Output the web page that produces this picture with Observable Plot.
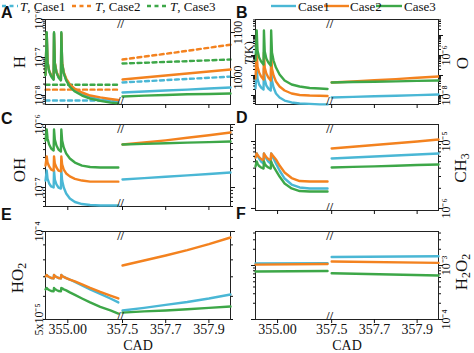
<!DOCTYPE html>
<html><head><meta charset="utf-8">
<script src="https://cdn.jsdelivr.net/npm/d3@7"></script>
<script src="https://cdn.jsdelivr.net/npm/@observablehq/plot@0.6"></script>
<style>
body{margin:0;background:#fff;}
#fig{position:relative;width:474px;height:353px;overflow:hidden;font-family:"Liberation Serif",serif;color:#111;}
#fig svg{position:absolute;left:0;top:0;overflow:visible;}
.t{position:absolute;white-space:nowrap;line-height:1;}
.rot{transform:translate(-50%,-50%) rotate(-90deg);}
.ctr{transform:translate(-50%,-50%);}
.pl{position:absolute;font-family:"Liberation Sans",Arial,sans-serif;font-weight:bold;font-size:16px;line-height:1;}
sub{font-size:70%;vertical-align:-0.25em;}
</style></head>
<body><div id="fig"></div>
<script>
// ---------- data ----------
const cases = ["Case1", "Case2", "Case3"];
const colors = ["#4ab7d5", "#f3821f", "#3da748"];
const xTicks = [355, 357.5, 357.7, 357.9];
const cadL = [353.90, 353.96, 354.00, 354.08, 354.18, 354.30, 354.32, 354.36, 354.44, 354.54, 354.66, 354.68, 354.72, 354.80, 354.92, 355.10, 355.35, 355.70, 356.10, 356.60, 357.10, 357.49];
const cadR = [357.5, 357.6, 357.7, 357.8, 357.9, 358.0];
const cadL2 = [353.9, 357.49];
const cadR2 = [357.5, 358.0];
const cadR3 = [357.5, 357.75, 358.0];

// A: H
const hL1 = [3.5e-8, 4.3e-7, 7.5e-8, 4.4e-8, 3.3e-8, 2.7e-8, 4.3e-7, 7.1e-8, 4.1e-8, 3.1e-8, 2.6e-8, 4.3e-7, 7.1e-8, 3.9e-8, 2.6e-8, 1.8e-8, 1.35e-8, 1.08e-8, 9.0e-9, 7.8e-9, 7.1e-9, 6.8e-9];
const hL2 = [3.6e-8, 4.3e-7, 7.6e-8, 4.5e-8, 3.4e-8, 2.8e-8, 4.3e-7, 7.3e-8, 4.2e-8, 3.2e-8, 2.7e-8, 4.3e-7, 7.3e-8, 4.1e-8, 2.8e-8, 1.95e-8, 1.5e-8, 1.2e-8, 1.0e-8, 8.9e-9, 8.1e-9, 7.6e-9];
const hL3 = [3.4e-8, 4.6e-7, 7.4e-8, 4.3e-8, 3.2e-8, 2.6e-8, 4.6e-7, 7.0e-8, 4.0e-8, 3.0e-8, 2.5e-8, 4.6e-7, 7.0e-8, 3.8e-8, 2.5e-8, 1.7e-8, 1.27e-8, 1.0e-8, 8.3e-9, 7.2e-9, 6.5e-9, 6.2e-9];
const hR1 = [1.2e-8, 1.27e-8, 1.35e-8, 1.43e-8, 1.53e-8, 1.63e-8];
const hR2 = [2.64e-8, 2.98e-8, 3.36e-8, 3.79e-8, 4.28e-8, 4.83e-8];
const hR3 = [9.4e-9, 9.9e-9, 1.03e-8, 1.08e-8, 1.1e-8, 1.13e-8];
// A: temperature (dashed, right axis)
const tL1 = [949, 949], tL2 = [973, 973], tL3 = [984, 984];
const tR1 = [989, 995.5, 1002], tR2 = [1040, 1056, 1073], tR3 = [1031, 1035.5, 1040];

// B: O
const oL1 = [2.24e-8, 2.24e-7, 7.1e-8, 3.55e-8, 2.51e-8, 2.0e-8, 2.24e-7, 6.3e-8, 3.16e-8, 2.24e-8, 1.78e-8, 2.24e-7, 5.6e-8, 2.51e-8, 1.26e-8, 7.9e-9, 5.6e-9, 4.5e-9, 4.0e-9, 3.8e-9, 3.6e-9, 3.6e-9];
const oL2 = [7.1e-8, 1.41e-6, 2.82e-7, 1.41e-7, 8.9e-8, 6.3e-8, 1.41e-6, 2.51e-7, 1.26e-7, 7.9e-8, 5.6e-8, 1.41e-6, 2.24e-7, 1.0e-7, 5.0e-8, 2.82e-8, 1.78e-8, 1.26e-8, 1.06e-8, 1.0e-8, 9.7e-9, 9.4e-9];
const oL3 = [5.6e-7, 1.78e-5, 1.78e-6, 7.9e-7, 5.0e-7, 3.55e-7, 1.78e-5, 1.58e-6, 7.1e-7, 4.5e-7, 3.16e-7, 1.78e-5, 1.41e-6, 5.6e-7, 2.5e-7, 1.12e-7, 5.6e-8, 3.55e-8, 2.82e-8, 2.37e-8, 2.24e-8, 2.11e-8];
const oR1 = [7.9e-9, 8.5e-9, 9.1e-9, 9.7e-9, 1.04e-8, 1.12e-8];
const oR2 = [4.5e-8, 5.0e-8, 5.8e-8, 6.6e-8, 7.7e-8, 8.9e-8];
const oR3 = [4.5e-8, 4.7e-8, 4.9e-8, 5.1e-8, 5.4e-8, 5.6e-8];

// C: OH
const ohL1 = [1.29e-7, 1.86e-7, 1.39e-7, 1.16e-7, 1.04e-7, 1.0e-7, 1.86e-7, 1.34e-7, 1.12e-7, 1.0e-7, 9.64e-8, 1.86e-7, 1.29e-7, 1.0e-7, 8.03e-8, 6.69e-8, 5.89e-8, 5.47e-8, 5.27e-8, 5.18e-8, 5.18e-8, 5.18e-8];
const ohL2 = [2.23e-7, 3.11e-7, 2.49e-7, 2.16e-7, 1.93e-7, 1.86e-7, 3.11e-7, 2.40e-7, 2.08e-7, 1.86e-7, 1.80e-7, 3.11e-7, 2.32e-7, 1.93e-7, 1.67e-7, 1.50e-7, 1.37e-7, 1.29e-7, 1.24e-7, 1.24e-7, 1.24e-7, 1.24e-7];
const ohL3 = [5.57e-7, 8.33e-7, 6.0e-7, 4.82e-7, 4.16e-7, 3.86e-7, 8.33e-7, 5.78e-7, 4.64e-7, 4.01e-7, 3.73e-7, 8.33e-7, 5.57e-7, 4.31e-7, 3.46e-7, 2.89e-7, 2.49e-7, 2.23e-7, 2.12e-7, 2.08e-7, 2.08e-7, 2.08e-7];
const ohR1 = [1.34e-7, 1.41e-7, 1.48e-7, 1.56e-7, 1.64e-7, 1.73e-7];
const ohR2 = [4.82e-7, 5.18e-7, 5.61e-7, 6.15e-7, 6.76e-7, 7.46e-7];
const ohR3 = [4.82e-7, 4.92e-7, 5.03e-7, 5.15e-7, 5.26e-7, 5.37e-7];

// D: CH3
const ch3L1 = [5.77e-6, 6.63e-6, 6.18e-6, 5.57e-6, 5.03e-6, 4.69e-6, 6.63e-6, 6.18e-6, 5.57e-6, 5.03e-6, 4.69e-6, 6.63e-6, 6.18e-6, 5.57e-6, 4.69e-6, 3.69e-6, 2.80e-6, 2.28e-6, 2.06e-6, 1.99e-6, 1.99e-6, 1.99e-6];
const ch3L2 = [5.77e-6, 6.63e-6, 6.29e-6, 5.87e-6, 5.48e-6, 5.20e-6, 6.63e-6, 6.29e-6, 5.87e-6, 5.48e-6, 5.20e-6, 6.63e-6, 6.40e-6, 5.97e-6, 5.39e-6, 4.38e-6, 3.44e-6, 2.85e-6, 2.57e-6, 2.53e-6, 2.53e-6, 2.53e-6];
const ch3L3 = [4.23e-6, 5.03e-6, 4.69e-6, 4.30e-6, 4.09e-6, 3.95e-6, 5.03e-6, 4.69e-6, 4.30e-6, 4.09e-6, 3.95e-6, 5.03e-6, 4.69e-6, 4.23e-6, 3.69e-6, 3.00e-6, 2.36e-6, 1.99e-6, 1.82e-6, 1.79e-6, 1.79e-6, 1.79e-6];
const ch3R1 = [5.57e-6, 5.77e-6, 5.97e-6, 6.18e-6, 6.40e-6, 6.63e-6];
const ch3R2 = [7.87e-6, 8.34e-6, 8.87e-6, 9.44e-6, 1.0e-5, 1.07e-5];
const ch3R3 = [4.09e-6, 4.18e-6, 4.26e-6, 4.35e-6, 4.45e-6, 4.54e-6];

// E: HO2
const ho2L1 = [7.02e-5, 7.10e-5, 7.04e-5, 6.99e-5, 6.93e-5, 6.91e-5, 7.10e-5, 7.04e-5, 6.99e-5, 6.93e-5, 6.91e-5, 7.10e-5, 7.04e-5, 6.99e-5, 6.93e-5, 6.85e-5, 6.72e-5, 6.54e-5, 6.34e-5, 6.12e-5, 5.90e-5, 5.72e-5];
const ho2L2 = [7.02e-5, 7.10e-5, 7.04e-5, 6.99e-5, 6.93e-5, 6.91e-5, 7.10e-5, 7.04e-5, 6.99e-5, 6.93e-5, 6.91e-5, 7.10e-5, 7.04e-5, 6.99e-5, 6.93e-5, 6.85e-5, 6.75e-5, 6.59e-5, 6.41e-5, 6.21e-5, 6.04e-5, 5.90e-5];
const ho2L3 = [6.34e-5, 6.41e-5, 6.36e-5, 6.31e-5, 6.26e-5, 6.24e-5, 6.41e-5, 6.36e-5, 6.31e-5, 6.26e-5, 6.24e-5, 6.41e-5, 6.39e-5, 6.34e-5, 6.29e-5, 6.19e-5, 6.07e-5, 5.90e-5, 5.72e-5, 5.52e-5, 5.37e-5, 5.24e-5];
const ho2R1 = [5.37e-5, 5.48e-5, 5.61e-5, 5.74e-5, 5.90e-5, 6.09e-5];
const ho2R2 = [7.65e-5, 7.96e-5, 8.28e-5, 8.64e-5, 9.06e-5, 9.54e-5];
const ho2R3 = [5.28e-5, 5.33e-5, 5.37e-5, 5.42e-5, 5.48e-5, 5.54e-5];

// F: H2O2
const h2o2L1 = [1.09e-3, 1.11e-3], h2o2L2 = [1.04e-3, 1.066e-3], h2o2L3 = [7.74e-4, 7.91e-4];
const h2o2R1 = [1.44e-3, 1.49e-3], h2o2R2 = [1.19e-3, 1.12e-3], h2o2R3 = [7.2e-4, 6.53e-4];

// ---------- helpers ----------
const W = 474, H = 353;
// broken CAD axis: the two segments are joined into one display coordinate
const brk = d3.scaleLinear().domain([353.9, 357.499, 357.5, 358.0]).range([0, 73, 77, 185]);
const xDom = [0, 185];
const supMap = {"-": "\u207B", "0": "\u2070", "1": "\u00B9", "2": "\u00B2", "3": "\u00B3", "4": "\u2074", "5": "\u2075", "6": "\u2076", "7": "\u2077", "8": "\u2078", "9": "\u2079"};
const sup = s => String(s).split("").map(c => supMap[c]).join("");
const pow10 = v => "10" + sup(Math.round(Math.log10(v)));
const fmtX = u => { const d = Math.round(brk.invert(u) * 10) / 10; return d === 355 ? "355.00" : d.toFixed(1); };
const none = () => "";
function minors(lo, hi) {
  const out = [];
  for (let e = Math.floor(Math.log10(lo)); e <= Math.ceil(Math.log10(hi)); e++)
    for (let m = 2; m <= 9; m++) { const v = m * Math.pow(10, e); if (v >= lo && v <= hi) out.push(v); }
  return out;
}
function decades(lo, hi) {
  const out = [];
  for (let e = Math.ceil(Math.log10(lo) - 1e-9); e <= Math.floor(Math.log10(hi) + 1e-9); e++) out.push(Math.pow(10, e));
  return out;
}
function rows(list) {
  const d = [];
  list.forEach(([xs, ys, ci, seg]) => xs.forEach((x, i) => d.push({x, y: ys[i], c: cases[ci], seg})));
  return d;
}
const colLeft = {l: 45, r: 230};
const colRight = {l: 255, r: 438};
const fig = document.getElementById("fig");
const baseStyle = {background: "transparent", fontFamily: '"Liberation Serif", serif', fontSize: "14px", color: "#111", overflow: "visible"};

function panel(p) {
  const col = p.col;
  const data = rows(p.series);
  const opp = p.side === "left" ? "right" : "left";
  const lo = p.yDomain[0], hi = p.yDomain[1];
  const dec = decades(lo, hi);
  const marks = [
    Plot.frame({stroke: "#222", strokeWidth: 1}),
    Plot.line(data, {x: d => brk(d.x), y: "y", z: d => d.c + d.seg, stroke: "c", strokeWidth: 2.4}),
    Plot.axisY({anchor: p.side, ticks: dec, tickFormat: none, tickSize: 4, label: null}),
    Plot.axisY({anchor: p.side, ticks: minors(lo, hi), tickFormat: none, tickSize: 2, label: null}),
    Plot.axisY({anchor: p.side, ticks: p.labels, tickFormat: p.fmt, tickSize: 0, tickPadding: 3, tickRotate: -90, fontSize: 12,
      lineAnchor: p.side === "left" ? "bottom" : "top", textAnchor: "middle", label: null}),
    Plot.axisX({anchor: "bottom", ticks: xTicks.map(brk), tickFormat: p.showX ? fmtX : none, tickSize: 4, tickPadding: 1, label: null}),
    Plot.text([{x: 357.4995, t: "//"}], {x: d => brk(d.x), text: "t", frameAnchor: "top", fontSize: 12, fontWeight: "bold", fill: "#222"}),
    Plot.text([{x: 357.4995, t: "//"}], {x: d => brk(d.x), text: "t", frameAnchor: "bottom", fontSize: 12, fontWeight: "bold", fill: "#222"})
  ];
  if (p.mirror) {
    marks.push(Plot.axisY({anchor: opp, ticks: dec, tickFormat: none, tickSize: 4, label: null}));
    marks.push(Plot.axisY({anchor: opp, ticks: minors(lo, hi), tickFormat: none, tickSize: 2, label: null}));
  }
  const svg = Plot.plot({
    width: W, height: H,
    marginLeft: col.l, marginRight: W - col.r, marginTop: p.top, marginBottom: H - p.bottom,
    style: baseStyle,
    x: {domain: xDom},
    y: {type: "log", domain: p.yDomain},
    color: {domain: cases, range: colors},
    marks
  });
  fig.appendChild(svg);
}

// T overlay for panel A (dashed, linear right axis)
const tData = rows([[cadL2, tL1, 0, "L"], [cadL2, tL2, 1, "L"], [cadL2, tL3, 2, "L"], [cadR3, tR1, 0, "R"], [cadR3, tR2, 1, "R"], [cadR3, tR3, 2, "R"]]);
fig.appendChild(Plot.plot({
  width: W, height: H, marginLeft: 45, marginRight: W - 230, marginTop: 19, marginBottom: H - 104,
  style: baseStyle,
  x: {domain: xDom, axis: null},
  y: {domain: [940, 1129], axis: null},
  color: {domain: cases, range: colors},
  marks: [
    Plot.line(tData, {x: d => brk(d.x), y: "y", z: d => d.c + d.seg, stroke: "c", strokeWidth: 2.4, strokeDasharray: "4,3.5"}),
    Plot.axisY({anchor: "right", ticks: [1000, 1100], tickFormat: none, tickSize: 4, label: null}),
    Plot.axisY({anchor: "right", ticks: [1000, 1100], tickFormat: d => String(d), tickSize: 0, tickPadding: 3, tickRotate: -90, fontSize: 12, lineAnchor: "top", textAnchor: "middle", label: null})
  ]
}));

panel({col: colLeft, top: 19, bottom: 104, side: "left", yDomain: [5.8e-9, 1e-6], labels: [1e-8, 1e-7, 1e-6], fmt: pow10, mirror: false,
  series: [[cadL, hL1, 0, "L"], [cadL, hL2, 1, "L"], [cadL, hL3, 2, "L"], [cadR, hR1, 0, "R"], [cadR, hR2, 1, "R"], [cadR, hR3, 2, "R"]]});
panel({col: colRight, top: 19, bottom: 104, side: "right", yDomain: [3.55e-9, 6.3e-5], labels: [1e-8, 1e-6], fmt: pow10, mirror: true,
  series: [[cadL, oL1, 0, "L"], [cadL, oL2, 1, "L"], [cadL, oL3, 2, "L"], [cadR, oR1, 0, "R"], [cadR, oR2, 1, "R"], [cadR, oR3, 2, "R"]]});
panel({col: colLeft, top: 124, bottom: 206, side: "left", yDomain: [5e-8, 1e-6], labels: [1e-7, 1e-6], fmt: pow10, mirror: true,
  series: [[cadL, ohL1, 0, "L"], [cadL, ohL2, 1, "L"], [cadL, ohL3, 2, "L"], [cadR, ohR1, 0, "R"], [cadR, ohR2, 1, "R"], [cadR, ohR3, 2, "R"]]});
panel({col: colRight, top: 124, bottom: 210, side: "right", yDomain: [9.33e-7, 1.795e-5], labels: [1e-6, 1e-5], fmt: pow10, mirror: true,
  series: [[cadL, ch3L1, 0, "L"], [cadL, ch3L2, 1, "L"], [cadL, ch3L3, 2, "L"], [cadR, ch3R1, 0, "R"], [cadR, ch3R2, 1, "R"], [cadR, ch3R3, 2, "R"]]});
panel({col: colLeft, top: 231, bottom: 319, side: "left", yDomain: [5e-5, 1e-4], labels: [5e-5, 1e-4], fmt: d => d < 9e-5 ? "5x" + pow10(1e-5) : pow10(d), mirror: true, showX: true,
  series: [[cadL, ho2L1, 0, "L"], [cadL, ho2L2, 1, "L"], [cadL, ho2L3, 2, "L"], [cadR, ho2R1, 0, "R"], [cadR, ho2R2, 1, "R"], [cadR, ho2R3, 2, "R"]]});
panel({col: colRight, top: 231, bottom: 319, side: "right", yDomain: [1e-4, 4.27e-3], labels: [1e-4, 1e-3], fmt: pow10, mirror: true, showX: true,
  series: [[cadL2, h2o2L1, 0, "L"], [cadL2, h2o2L2, 1, "L"], [cadL2, h2o2L3, 2, "L"], [cadR2, h2o2R1, 0, "R"], [cadR2, h2o2R2, 1, "R"], [cadR2, h2o2R3, 2, "R"]]});

// ---------- text labels ----------
function label(html, x, y, cls, size) {
  const d = document.createElement("div");
  d.className = "t " + cls;
  d.style.left = x + "px"; d.style.top = y + "px"; d.style.fontSize = size + "px";
  d.innerHTML = html;
  fig.appendChild(d);
}
label("H", 19, 62, "rot", 17);
label("OH", 19, 170, "rot", 17);
label("HO<sub>2</sub>", 19, 278, "rot", 17);
label("O", 462, 63, "rot", 17);
label("CH<sub>3</sub>", 462, 168, "rot", 17);
label("H<sub>2</sub>O<sub>2</sub>", 463, 272, "rot", 17);
label("<i>T</i>(K)", 249, 53, "rot", 12);
label("CAD", 138, 346, "ctr", 14);
label("CAD", 347, 346, "ctr", 14);

const letters = [["A", 1, 5], ["B", 236, 5], ["C", 1, 111], ["D", 236, 110], ["E", 1, 207], ["F", 236, 206]];
letters.forEach(([t, x, y]) => {
  const d = document.createElement("div");
  d.className = "pl"; d.style.left = x + "px"; d.style.top = y + "px"; d.textContent = t;
  fig.appendChild(d);
});

// ---------- legend ----------
const legDashed = [[2, 18, 20, "<i>T</i>, Case1"], [72, 93, 95, "<i>T</i>, Case2"], [147, 168, 170, "<i>T</i>, Case3"]];
const legSolid = [[271, 296, 298, "Case1"], [324, 349, 350, "Case2"], [376, 402, 404, "Case3"]];
const ns = "http://www.w3.org/2000/svg";
const leg = document.createElementNS(ns, "svg");
leg.setAttribute("width", W); leg.setAttribute("height", 20);
function legItem(x1, x2, color, dashed) {
  const l = document.createElementNS(ns, "line");
  l.setAttribute("x1", x1); l.setAttribute("x2", x2); l.setAttribute("y1", 6); l.setAttribute("y2", 6);
  l.setAttribute("stroke", color); l.setAttribute("stroke-width", 2.4);
  if (dashed) l.setAttribute("stroke-dasharray", "4,3.5");
  leg.appendChild(l);
}
legDashed.forEach(([a, b], i) => legItem(a, b, colors[i], true));
legSolid.forEach(([a, b], i) => legItem(a, b, colors[i], false));
fig.appendChild(leg);
legDashed.concat(legSolid).forEach(([a, b, tx, t]) => label(t, tx, 0, "", 13));
</script>
</body></html>
